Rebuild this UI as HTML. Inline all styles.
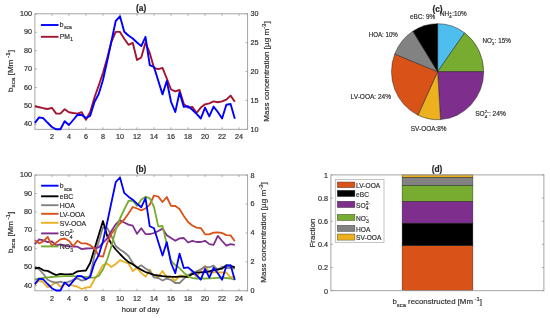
<!DOCTYPE html>
<html><head><meta charset="utf-8"><style>
html,body{margin:0;padding:0;background:#fff;}
body{width:550px;height:318px;overflow:hidden;}
svg{display:block;will-change:transform;font-family:"Liberation Sans",sans-serif;}
</style></head><body>
<svg width="550" height="318" viewBox="0 0 550 318" font-family="Liberation Sans, sans-serif">
<rect width="550" height="318" fill="#fff"/>
<rect x="34.9" y="13.8" width="212.70" height="115.50" fill="none" stroke="#9a9a9a" stroke-width="0.9"/>
<line x1="51.92" y1="129.3" x2="51.92" y2="127.30000000000001" stroke="#9a9a9a" stroke-width="0.8"/>
<line x1="51.92" y1="13.8" x2="51.92" y2="15.8" stroke="#9a9a9a" stroke-width="0.8"/>
<text x="51.92" y="139.30" font-size="7.2" text-anchor="middle" font-weight="normal" fill="#2e2e2e" stroke="#2e2e2e" stroke-width="0.18" >2</text>
<line x1="68.93" y1="129.3" x2="68.93" y2="127.30000000000001" stroke="#9a9a9a" stroke-width="0.8"/>
<line x1="68.93" y1="13.8" x2="68.93" y2="15.8" stroke="#9a9a9a" stroke-width="0.8"/>
<text x="68.93" y="139.30" font-size="7.2" text-anchor="middle" font-weight="normal" fill="#2e2e2e" stroke="#2e2e2e" stroke-width="0.18" >4</text>
<line x1="85.95" y1="129.3" x2="85.95" y2="127.30000000000001" stroke="#9a9a9a" stroke-width="0.8"/>
<line x1="85.95" y1="13.8" x2="85.95" y2="15.8" stroke="#9a9a9a" stroke-width="0.8"/>
<text x="85.95" y="139.30" font-size="7.2" text-anchor="middle" font-weight="normal" fill="#2e2e2e" stroke="#2e2e2e" stroke-width="0.18" >6</text>
<line x1="102.96" y1="129.3" x2="102.96" y2="127.30000000000001" stroke="#9a9a9a" stroke-width="0.8"/>
<line x1="102.96" y1="13.8" x2="102.96" y2="15.8" stroke="#9a9a9a" stroke-width="0.8"/>
<text x="102.96" y="139.30" font-size="7.2" text-anchor="middle" font-weight="normal" fill="#2e2e2e" stroke="#2e2e2e" stroke-width="0.18" >8</text>
<line x1="119.98" y1="129.3" x2="119.98" y2="127.30000000000001" stroke="#9a9a9a" stroke-width="0.8"/>
<line x1="119.98" y1="13.8" x2="119.98" y2="15.8" stroke="#9a9a9a" stroke-width="0.8"/>
<text x="119.98" y="139.30" font-size="7.2" text-anchor="middle" font-weight="normal" fill="#2e2e2e" stroke="#2e2e2e" stroke-width="0.18" >10</text>
<line x1="137.00" y1="129.3" x2="137.00" y2="127.30000000000001" stroke="#9a9a9a" stroke-width="0.8"/>
<line x1="137.00" y1="13.8" x2="137.00" y2="15.8" stroke="#9a9a9a" stroke-width="0.8"/>
<text x="137.00" y="139.30" font-size="7.2" text-anchor="middle" font-weight="normal" fill="#2e2e2e" stroke="#2e2e2e" stroke-width="0.18" >12</text>
<line x1="154.01" y1="129.3" x2="154.01" y2="127.30000000000001" stroke="#9a9a9a" stroke-width="0.8"/>
<line x1="154.01" y1="13.8" x2="154.01" y2="15.8" stroke="#9a9a9a" stroke-width="0.8"/>
<text x="154.01" y="139.30" font-size="7.2" text-anchor="middle" font-weight="normal" fill="#2e2e2e" stroke="#2e2e2e" stroke-width="0.18" >14</text>
<line x1="171.03" y1="129.3" x2="171.03" y2="127.30000000000001" stroke="#9a9a9a" stroke-width="0.8"/>
<line x1="171.03" y1="13.8" x2="171.03" y2="15.8" stroke="#9a9a9a" stroke-width="0.8"/>
<text x="171.03" y="139.30" font-size="7.2" text-anchor="middle" font-weight="normal" fill="#2e2e2e" stroke="#2e2e2e" stroke-width="0.18" >16</text>
<line x1="188.04" y1="129.3" x2="188.04" y2="127.30000000000001" stroke="#9a9a9a" stroke-width="0.8"/>
<line x1="188.04" y1="13.8" x2="188.04" y2="15.8" stroke="#9a9a9a" stroke-width="0.8"/>
<text x="188.04" y="139.30" font-size="7.2" text-anchor="middle" font-weight="normal" fill="#2e2e2e" stroke="#2e2e2e" stroke-width="0.18" >18</text>
<line x1="205.06" y1="129.3" x2="205.06" y2="127.30000000000001" stroke="#9a9a9a" stroke-width="0.8"/>
<line x1="205.06" y1="13.8" x2="205.06" y2="15.8" stroke="#9a9a9a" stroke-width="0.8"/>
<text x="205.06" y="139.30" font-size="7.2" text-anchor="middle" font-weight="normal" fill="#2e2e2e" stroke="#2e2e2e" stroke-width="0.18" >20</text>
<line x1="222.08" y1="129.3" x2="222.08" y2="127.30000000000001" stroke="#9a9a9a" stroke-width="0.8"/>
<line x1="222.08" y1="13.8" x2="222.08" y2="15.8" stroke="#9a9a9a" stroke-width="0.8"/>
<text x="222.08" y="139.30" font-size="7.2" text-anchor="middle" font-weight="normal" fill="#2e2e2e" stroke="#2e2e2e" stroke-width="0.18" >22</text>
<line x1="239.09" y1="129.3" x2="239.09" y2="127.30000000000001" stroke="#9a9a9a" stroke-width="0.8"/>
<line x1="239.09" y1="13.8" x2="239.09" y2="15.8" stroke="#9a9a9a" stroke-width="0.8"/>
<text x="239.09" y="139.30" font-size="7.2" text-anchor="middle" font-weight="normal" fill="#2e2e2e" stroke="#2e2e2e" stroke-width="0.18" >24</text>
<line x1="34.9" y1="124.30" x2="36.9" y2="124.30" stroke="#9a9a9a" stroke-width="0.8"/>
<text x="32.10" y="126.40" font-size="7.2" text-anchor="end" font-weight="normal" fill="#2e2e2e" stroke="#2e2e2e" stroke-width="0.18" >40</text>
<line x1="34.9" y1="105.90" x2="36.9" y2="105.90" stroke="#9a9a9a" stroke-width="0.8"/>
<text x="32.10" y="108.00" font-size="7.2" text-anchor="end" font-weight="normal" fill="#2e2e2e" stroke="#2e2e2e" stroke-width="0.18" >50</text>
<line x1="34.9" y1="87.50" x2="36.9" y2="87.50" stroke="#9a9a9a" stroke-width="0.8"/>
<text x="32.10" y="89.60" font-size="7.2" text-anchor="end" font-weight="normal" fill="#2e2e2e" stroke="#2e2e2e" stroke-width="0.18" >60</text>
<line x1="34.9" y1="69.10" x2="36.9" y2="69.10" stroke="#9a9a9a" stroke-width="0.8"/>
<text x="32.10" y="71.20" font-size="7.2" text-anchor="end" font-weight="normal" fill="#2e2e2e" stroke="#2e2e2e" stroke-width="0.18" >70</text>
<line x1="34.9" y1="50.70" x2="36.9" y2="50.70" stroke="#9a9a9a" stroke-width="0.8"/>
<text x="32.10" y="52.80" font-size="7.2" text-anchor="end" font-weight="normal" fill="#2e2e2e" stroke="#2e2e2e" stroke-width="0.18" >80</text>
<line x1="34.9" y1="32.30" x2="36.9" y2="32.30" stroke="#9a9a9a" stroke-width="0.8"/>
<text x="32.10" y="34.40" font-size="7.2" text-anchor="end" font-weight="normal" fill="#2e2e2e" stroke="#2e2e2e" stroke-width="0.18" >90</text>
<line x1="34.9" y1="13.90" x2="36.9" y2="13.90" stroke="#9a9a9a" stroke-width="0.8"/>
<text x="32.10" y="16.00" font-size="7.2" text-anchor="end" font-weight="normal" fill="#2e2e2e" stroke="#2e2e2e" stroke-width="0.18" >100</text>
<line x1="247.6" y1="129.30" x2="245.6" y2="129.30" stroke="#9a9a9a" stroke-width="0.8"/>
<text x="250.40" y="131.80" font-size="7.2" text-anchor="start" font-weight="normal" fill="#2e2e2e" stroke="#2e2e2e" stroke-width="0.18" >10</text>
<line x1="247.6" y1="100.43" x2="245.6" y2="100.43" stroke="#9a9a9a" stroke-width="0.8"/>
<text x="250.40" y="102.93" font-size="7.2" text-anchor="start" font-weight="normal" fill="#2e2e2e" stroke="#2e2e2e" stroke-width="0.18" >15</text>
<line x1="247.6" y1="71.55" x2="245.6" y2="71.55" stroke="#9a9a9a" stroke-width="0.8"/>
<text x="250.40" y="74.05" font-size="7.2" text-anchor="start" font-weight="normal" fill="#2e2e2e" stroke="#2e2e2e" stroke-width="0.18" >20</text>
<line x1="247.6" y1="42.67" x2="245.6" y2="42.67" stroke="#9a9a9a" stroke-width="0.8"/>
<text x="250.40" y="45.17" font-size="7.2" text-anchor="start" font-weight="normal" fill="#2e2e2e" stroke="#2e2e2e" stroke-width="0.18" >25</text>
<line x1="247.6" y1="13.80" x2="245.6" y2="13.80" stroke="#9a9a9a" stroke-width="0.8"/>
<text x="250.40" y="16.30" font-size="7.2" text-anchor="start" font-weight="normal" fill="#2e2e2e" stroke="#2e2e2e" stroke-width="0.18" >30</text>
<polyline points="34.90,106.30 39.15,107.20 43.41,108.20 47.66,109.00 51.92,107.80 56.17,113.60 60.42,113.60 64.68,109.20 68.93,112.20 73.19,113.00 77.44,113.60 81.69,112.20 85.95,119.70 90.20,112.00 94.46,97.50 98.71,85.50 102.96,73.00 107.22,58.00 111.47,41.50 115.73,31.90 119.98,31.90 124.23,38.70 128.49,44.80 132.74,42.80 137.00,60.00 141.25,57.50 145.50,42.50 149.76,53.00 154.01,67.90 158.27,69.20 162.52,67.90 166.77,78.50 171.03,89.50 175.28,91.40 179.54,90.00 183.79,104.00 188.04,107.60 192.30,106.90 196.55,113.00 200.81,107.60 205.06,104.30 209.31,103.30 213.57,101.40 217.82,102.30 222.08,101.40 226.33,99.60 230.58,95.60 234.84,101.80" fill="none" stroke="#A2142F" stroke-width="1.9" stroke-linejoin="round"/>
<polyline points="34.90,122.90 39.15,117.40 43.41,118.30 47.66,122.80 51.92,127.00 56.17,129.30 60.42,129.30 64.68,121.20 68.93,125.00 73.19,120.00 77.44,114.80 81.69,115.00 85.95,118.00 90.20,115.80 94.46,102.00 98.71,94.00 102.96,80.00 107.22,61.00 111.47,41.00 115.73,21.00 119.98,16.30 124.23,31.70 128.49,35.50 132.74,38.50 137.00,42.50 141.25,46.10 145.50,36.80 149.76,65.10 154.01,67.00 158.27,80.70 162.52,94.40 166.77,81.00 171.03,101.80 175.28,112.00 179.54,92.40 183.79,106.90 188.04,106.20 192.30,109.80 196.55,113.90 200.81,118.50 205.06,107.60 209.31,116.40 213.57,106.60 217.82,112.00 222.08,118.50 226.33,104.70 230.58,104.00 234.84,118.80" fill="none" stroke="#0000FF" stroke-width="1.9" stroke-linejoin="round"/>
<text x="141.20" y="11.20" font-size="8.4" text-anchor="middle" font-weight="bold" fill="#262626" stroke="#262626" stroke-width="0.18" >(a)</text>
<line x1="40.9" y1="25.0" x2="58.5" y2="25.0" stroke="#0000FF" stroke-width="1.9"/>
<line x1="40.9" y1="36.8" x2="58.5" y2="36.8" stroke="#A2142F" stroke-width="1.9"/>
<text x="59.70" y="26.60" font-size="6.8" text-anchor="start" font-weight="normal" fill="#2e2e2e" stroke="#2e2e2e" stroke-width="0.18" >b<tspan font-size="5" dx="0.4" dy="2.8">sca</tspan></text>
<text x="59.70" y="38.60" font-size="6.8" text-anchor="start" font-weight="normal" fill="#2e2e2e" stroke="#2e2e2e" stroke-width="0.18" >PM<tspan font-size="5" dx="0.3" dy="2.8">1</tspan></text>
<text x="0.00" y="0.00" font-size="7.2" text-anchor="middle" font-weight="normal" fill="#2e2e2e" stroke="#2e2e2e" stroke-width="0.18" textLength="41.8" lengthAdjust="spacingAndGlyphs" transform="translate(13.2,71.0) rotate(-90)">b<tspan font-size="5.6" dy="2.2">sca</tspan><tspan dy="-2.2"> [Mm</tspan><tspan font-size="5.6" dy="-3.4"> -1</tspan><tspan dy="3.4">]</tspan></text>
<text x="0.00" y="0.00" font-size="7.6" text-anchor="middle" font-weight="normal" fill="#2e2e2e" stroke="#2e2e2e" stroke-width="0.18" textLength="100.4" lengthAdjust="spacingAndGlyphs" transform="translate(269.4,71.5) rotate(-90)">Mass concentration [µg m<tspan font-size="5.6" dy="-3.6">-3</tspan><tspan dy="3.6">]</tspan></text>
<rect x="34.9" y="175.0" width="212.70" height="115.80" fill="none" stroke="#9a9a9a" stroke-width="0.9"/>
<line x1="51.92" y1="290.8" x2="51.92" y2="288.8" stroke="#9a9a9a" stroke-width="0.8"/>
<line x1="51.92" y1="175.0" x2="51.92" y2="177.0" stroke="#9a9a9a" stroke-width="0.8"/>
<text x="51.92" y="300.80" font-size="7.2" text-anchor="middle" font-weight="normal" fill="#2e2e2e" stroke="#2e2e2e" stroke-width="0.18" >2</text>
<line x1="68.93" y1="290.8" x2="68.93" y2="288.8" stroke="#9a9a9a" stroke-width="0.8"/>
<line x1="68.93" y1="175.0" x2="68.93" y2="177.0" stroke="#9a9a9a" stroke-width="0.8"/>
<text x="68.93" y="300.80" font-size="7.2" text-anchor="middle" font-weight="normal" fill="#2e2e2e" stroke="#2e2e2e" stroke-width="0.18" >4</text>
<line x1="85.95" y1="290.8" x2="85.95" y2="288.8" stroke="#9a9a9a" stroke-width="0.8"/>
<line x1="85.95" y1="175.0" x2="85.95" y2="177.0" stroke="#9a9a9a" stroke-width="0.8"/>
<text x="85.95" y="300.80" font-size="7.2" text-anchor="middle" font-weight="normal" fill="#2e2e2e" stroke="#2e2e2e" stroke-width="0.18" >6</text>
<line x1="102.96" y1="290.8" x2="102.96" y2="288.8" stroke="#9a9a9a" stroke-width="0.8"/>
<line x1="102.96" y1="175.0" x2="102.96" y2="177.0" stroke="#9a9a9a" stroke-width="0.8"/>
<text x="102.96" y="300.80" font-size="7.2" text-anchor="middle" font-weight="normal" fill="#2e2e2e" stroke="#2e2e2e" stroke-width="0.18" >8</text>
<line x1="119.98" y1="290.8" x2="119.98" y2="288.8" stroke="#9a9a9a" stroke-width="0.8"/>
<line x1="119.98" y1="175.0" x2="119.98" y2="177.0" stroke="#9a9a9a" stroke-width="0.8"/>
<text x="119.98" y="300.80" font-size="7.2" text-anchor="middle" font-weight="normal" fill="#2e2e2e" stroke="#2e2e2e" stroke-width="0.18" >10</text>
<line x1="137.00" y1="290.8" x2="137.00" y2="288.8" stroke="#9a9a9a" stroke-width="0.8"/>
<line x1="137.00" y1="175.0" x2="137.00" y2="177.0" stroke="#9a9a9a" stroke-width="0.8"/>
<text x="137.00" y="300.80" font-size="7.2" text-anchor="middle" font-weight="normal" fill="#2e2e2e" stroke="#2e2e2e" stroke-width="0.18" >12</text>
<line x1="154.01" y1="290.8" x2="154.01" y2="288.8" stroke="#9a9a9a" stroke-width="0.8"/>
<line x1="154.01" y1="175.0" x2="154.01" y2="177.0" stroke="#9a9a9a" stroke-width="0.8"/>
<text x="154.01" y="300.80" font-size="7.2" text-anchor="middle" font-weight="normal" fill="#2e2e2e" stroke="#2e2e2e" stroke-width="0.18" >14</text>
<line x1="171.03" y1="290.8" x2="171.03" y2="288.8" stroke="#9a9a9a" stroke-width="0.8"/>
<line x1="171.03" y1="175.0" x2="171.03" y2="177.0" stroke="#9a9a9a" stroke-width="0.8"/>
<text x="171.03" y="300.80" font-size="7.2" text-anchor="middle" font-weight="normal" fill="#2e2e2e" stroke="#2e2e2e" stroke-width="0.18" >16</text>
<line x1="188.04" y1="290.8" x2="188.04" y2="288.8" stroke="#9a9a9a" stroke-width="0.8"/>
<line x1="188.04" y1="175.0" x2="188.04" y2="177.0" stroke="#9a9a9a" stroke-width="0.8"/>
<text x="188.04" y="300.80" font-size="7.2" text-anchor="middle" font-weight="normal" fill="#2e2e2e" stroke="#2e2e2e" stroke-width="0.18" >18</text>
<line x1="205.06" y1="290.8" x2="205.06" y2="288.8" stroke="#9a9a9a" stroke-width="0.8"/>
<line x1="205.06" y1="175.0" x2="205.06" y2="177.0" stroke="#9a9a9a" stroke-width="0.8"/>
<text x="205.06" y="300.80" font-size="7.2" text-anchor="middle" font-weight="normal" fill="#2e2e2e" stroke="#2e2e2e" stroke-width="0.18" >20</text>
<line x1="222.08" y1="290.8" x2="222.08" y2="288.8" stroke="#9a9a9a" stroke-width="0.8"/>
<line x1="222.08" y1="175.0" x2="222.08" y2="177.0" stroke="#9a9a9a" stroke-width="0.8"/>
<text x="222.08" y="300.80" font-size="7.2" text-anchor="middle" font-weight="normal" fill="#2e2e2e" stroke="#2e2e2e" stroke-width="0.18" >22</text>
<line x1="239.09" y1="290.8" x2="239.09" y2="288.8" stroke="#9a9a9a" stroke-width="0.8"/>
<line x1="239.09" y1="175.0" x2="239.09" y2="177.0" stroke="#9a9a9a" stroke-width="0.8"/>
<text x="239.09" y="300.80" font-size="7.2" text-anchor="middle" font-weight="normal" fill="#2e2e2e" stroke="#2e2e2e" stroke-width="0.18" >24</text>
<line x1="34.9" y1="285.50" x2="36.9" y2="285.50" stroke="#9a9a9a" stroke-width="0.8"/>
<text x="32.10" y="287.60" font-size="7.2" text-anchor="end" font-weight="normal" fill="#2e2e2e" stroke="#2e2e2e" stroke-width="0.18" >40</text>
<line x1="34.9" y1="267.10" x2="36.9" y2="267.10" stroke="#9a9a9a" stroke-width="0.8"/>
<text x="32.10" y="269.20" font-size="7.2" text-anchor="end" font-weight="normal" fill="#2e2e2e" stroke="#2e2e2e" stroke-width="0.18" >50</text>
<line x1="34.9" y1="248.70" x2="36.9" y2="248.70" stroke="#9a9a9a" stroke-width="0.8"/>
<text x="32.10" y="250.80" font-size="7.2" text-anchor="end" font-weight="normal" fill="#2e2e2e" stroke="#2e2e2e" stroke-width="0.18" >60</text>
<line x1="34.9" y1="230.30" x2="36.9" y2="230.30" stroke="#9a9a9a" stroke-width="0.8"/>
<text x="32.10" y="232.40" font-size="7.2" text-anchor="end" font-weight="normal" fill="#2e2e2e" stroke="#2e2e2e" stroke-width="0.18" >70</text>
<line x1="34.9" y1="211.90" x2="36.9" y2="211.90" stroke="#9a9a9a" stroke-width="0.8"/>
<text x="32.10" y="214.00" font-size="7.2" text-anchor="end" font-weight="normal" fill="#2e2e2e" stroke="#2e2e2e" stroke-width="0.18" >80</text>
<line x1="34.9" y1="193.50" x2="36.9" y2="193.50" stroke="#9a9a9a" stroke-width="0.8"/>
<text x="32.10" y="195.60" font-size="7.2" text-anchor="end" font-weight="normal" fill="#2e2e2e" stroke="#2e2e2e" stroke-width="0.18" >90</text>
<line x1="34.9" y1="175.10" x2="36.9" y2="175.10" stroke="#9a9a9a" stroke-width="0.8"/>
<text x="32.10" y="177.20" font-size="7.2" text-anchor="end" font-weight="normal" fill="#2e2e2e" stroke="#2e2e2e" stroke-width="0.18" >100</text>
<line x1="247.6" y1="290.80" x2="245.6" y2="290.80" stroke="#9a9a9a" stroke-width="0.8"/>
<text x="250.40" y="293.30" font-size="7.2" text-anchor="start" font-weight="normal" fill="#2e2e2e" stroke="#2e2e2e" stroke-width="0.18" >0</text>
<line x1="247.6" y1="261.85" x2="245.6" y2="261.85" stroke="#9a9a9a" stroke-width="0.8"/>
<text x="250.40" y="264.35" font-size="7.2" text-anchor="start" font-weight="normal" fill="#2e2e2e" stroke="#2e2e2e" stroke-width="0.18" >2</text>
<line x1="247.6" y1="232.90" x2="245.6" y2="232.90" stroke="#9a9a9a" stroke-width="0.8"/>
<text x="250.40" y="235.40" font-size="7.2" text-anchor="start" font-weight="normal" fill="#2e2e2e" stroke="#2e2e2e" stroke-width="0.18" >4</text>
<line x1="247.6" y1="203.95" x2="245.6" y2="203.95" stroke="#9a9a9a" stroke-width="0.8"/>
<text x="250.40" y="206.45" font-size="7.2" text-anchor="start" font-weight="normal" fill="#2e2e2e" stroke="#2e2e2e" stroke-width="0.18" >6</text>
<line x1="247.6" y1="175.00" x2="245.6" y2="175.00" stroke="#9a9a9a" stroke-width="0.8"/>
<text x="250.40" y="177.50" font-size="7.2" text-anchor="start" font-weight="normal" fill="#2e2e2e" stroke="#2e2e2e" stroke-width="0.18" >8</text>
<polyline points="34.90,284.40 39.15,280.60 43.41,282.30 47.66,287.40 51.92,285.00 56.17,281.90 60.42,287.00 64.68,284.10 68.93,284.60 73.19,285.70 77.44,286.70 81.69,289.00 85.95,287.60 90.20,287.00 94.46,279.50 98.71,273.00 102.96,265.00 107.22,263.70 111.47,267.00 115.73,264.00 119.98,260.20 124.23,262.00 128.49,263.40 132.74,271.00 137.00,267.80 141.25,272.90 145.50,276.70 149.76,269.70 154.01,277.40 158.27,276.70 162.52,271.00 166.77,277.40 171.03,276.80 175.28,280.90 179.54,275.50 183.79,276.10 188.04,277.50 192.30,272.00 196.55,276.80 200.81,270.70 205.06,265.90 209.31,272.70 213.57,272.00 217.82,272.30 222.08,272.50 226.33,272.70 230.58,277.50 234.84,276.10" fill="none" stroke="#EDB120" stroke-width="1.8" stroke-linejoin="round"/>
<polyline points="34.90,266.50 39.15,269.50 43.41,274.00 47.66,279.70 51.92,281.70 56.17,282.80 60.42,281.70 64.68,283.00 68.93,281.70 73.19,279.70 77.44,278.40 81.69,280.60 85.95,279.70 90.20,275.10 94.46,255.50 98.71,242.00 102.96,227.50 107.22,228.00 111.47,236.00 115.73,246.00 119.98,249.50 124.23,252.30 128.49,256.00 132.74,263.00 137.00,267.80 141.25,265.30 145.50,268.50 149.76,271.00 154.01,277.40 158.27,278.00 162.52,280.50 166.77,278.60 171.03,279.90 175.28,283.00 179.54,283.00 183.79,278.90 188.04,275.00 192.30,273.00 196.55,271.40 200.81,269.30 205.06,266.60 209.31,267.30 213.57,265.60 217.82,270.00 222.08,266.60 226.33,268.00 230.58,268.00 234.84,268.60" fill="none" stroke="#828282" stroke-width="1.8" stroke-linejoin="round"/>
<polyline points="34.90,268.50 39.15,267.70 43.41,270.30 47.66,270.90 51.92,273.10 56.17,275.10 60.42,273.80 64.68,274.40 68.93,274.40 73.19,273.80 77.44,271.40 81.69,270.90 85.95,270.50 90.20,263.00 94.46,249.00 98.71,235.00 102.96,221.00 107.22,236.00 111.47,244.00 115.73,249.50 119.98,254.00 124.23,258.30 128.49,262.10 132.74,264.30 137.00,267.30 141.25,269.70 145.50,272.00 149.76,273.30 154.01,274.80 158.27,275.50 162.52,276.10 166.77,276.50 171.03,276.70 175.28,276.80 179.54,276.60 183.79,276.70 188.04,276.80 192.30,274.10 196.55,272.70 200.81,272.30 205.06,272.00 209.31,271.40 213.57,270.00 217.82,269.30 222.08,268.60 226.33,265.20 230.58,265.90 234.84,267.30" fill="none" stroke="#000000" stroke-width="1.8" stroke-linejoin="round"/>
<polyline points="34.90,244.10 39.15,239.40 43.41,240.40 47.66,242.10 51.92,241.40 56.17,245.40 60.42,244.30 64.68,245.60 68.93,246.40 73.19,246.50 77.44,246.70 81.69,249.10 85.95,248.50 90.20,248.30 94.46,248.00 98.71,247.40 102.96,243.00 107.22,238.30 111.47,231.00 115.73,224.30 119.98,220.20 124.23,222.50 128.49,224.60 132.74,225.60 137.00,233.80 141.25,228.30 145.50,234.00 149.76,234.10 154.01,233.00 158.27,231.00 162.52,228.60 166.77,235.20 171.03,238.00 175.28,240.80 179.54,238.40 183.79,238.00 188.04,242.50 192.30,240.80 196.55,242.00 200.81,242.00 205.06,240.80 209.31,244.10 213.57,244.90 217.82,235.90 222.08,241.00 226.33,245.70 230.58,244.10 234.84,244.90" fill="none" stroke="#7E2F8E" stroke-width="1.8" stroke-linejoin="round"/>
<polyline points="34.90,240.10 39.15,243.40 43.41,241.40 47.66,236.80 51.92,245.60 56.17,242.70 60.42,239.40 64.68,238.50 68.93,240.80 73.19,246.00 77.44,240.80 81.69,243.40 85.95,243.40 90.20,245.20 94.46,248.50 98.71,255.80 102.96,256.70 107.22,243.00 111.47,233.70 115.73,228.50 119.98,223.50 124.23,219.50 128.49,213.50 132.74,207.00 137.00,208.50 141.25,210.30 145.50,208.50 149.76,204.70 154.01,195.50 158.27,196.60 162.52,202.00 166.77,197.00 171.03,205.80 175.28,206.00 179.54,209.00 183.79,216.00 188.04,222.00 192.30,225.50 196.55,227.60 200.81,228.10 205.06,234.30 209.31,234.30 213.57,232.60 217.82,232.40 222.08,233.00 226.33,235.10 230.58,235.40 234.84,241.30" fill="none" stroke="#D95319" stroke-width="1.8" stroke-linejoin="round"/>
<polyline points="34.90,279.50 39.15,278.60 43.41,277.80 47.66,277.30 51.92,277.00 56.17,276.70 60.42,276.40 64.68,276.20 68.93,276.10 73.19,276.10 77.44,276.30 81.69,276.60 85.95,277.00 90.20,277.60 94.46,277.60 98.71,276.00 102.96,269.50 107.22,259.50 111.47,246.00 115.73,230.00 119.98,218.50 124.23,209.50 128.49,201.00 132.74,200.50 137.00,205.90 141.25,199.80 145.50,196.70 149.76,198.30 154.01,207.00 158.27,226.40 162.52,226.00 166.77,244.10 171.03,261.00 175.28,265.20 179.54,268.00 183.79,272.70 188.04,276.00 192.30,278.20 196.55,278.50 200.81,278.50 205.06,278.50 209.31,278.40 213.57,278.20 217.82,277.80 222.08,277.50 226.33,278.00 230.58,278.50 234.84,279.60" fill="none" stroke="#77AC30" stroke-width="1.8" stroke-linejoin="round"/>
<polyline points="34.90,284.10 39.15,278.60 43.41,279.50 47.66,284.00 51.92,288.20 56.17,290.50 60.42,290.50 64.68,282.40 68.93,286.20 73.19,281.20 77.44,276.00 81.69,276.20 85.95,279.20 90.20,277.00 94.46,263.20 98.71,255.20 102.96,241.20 107.22,222.20 111.47,202.20 115.73,182.20 119.98,177.50 124.23,192.90 128.49,196.70 132.74,199.70 137.00,203.70 141.25,207.30 145.50,198.00 149.76,226.30 154.01,228.20 158.27,241.90 162.52,255.60 166.77,242.20 171.03,263.00 175.28,273.20 179.54,253.60 183.79,268.10 188.04,267.40 192.30,271.00 196.55,275.10 200.81,279.70 205.06,268.80 209.31,277.60 213.57,267.80 217.82,273.20 222.08,279.70 226.33,265.90 230.58,265.20 234.84,280.00" fill="none" stroke="#0000FF" stroke-width="1.8" stroke-linejoin="round"/>
<text x="141.00" y="172.40" font-size="8.4" text-anchor="middle" font-weight="bold" fill="#262626" stroke="#262626" stroke-width="0.18" >(b)</text>
<line x1="41.1" y1="185.7" x2="58.5" y2="185.7" stroke="#0000FF" stroke-width="1.9"/>
<text x="59.80" y="188.40" font-size="6.9" text-anchor="start" font-weight="normal" fill="#2e2e2e" stroke="#2e2e2e" stroke-width="0.18" >b<tspan font-size="5" dx="0.4" dy="2.8">sca</tspan></text>
<line x1="41.1" y1="196.3" x2="58.5" y2="196.3" stroke="#000000" stroke-width="1.9"/>
<text x="59.80" y="199.00" font-size="6.9" text-anchor="start" font-weight="normal" fill="#2e2e2e" stroke="#2e2e2e" stroke-width="0.18" >eBC</text>
<line x1="41.1" y1="205.2" x2="58.5" y2="205.2" stroke="#828282" stroke-width="1.9"/>
<text x="59.80" y="207.90" font-size="6.9" text-anchor="start" font-weight="normal" fill="#2e2e2e" stroke="#2e2e2e" stroke-width="0.18" >HOA</text>
<line x1="41.1" y1="213.8" x2="58.5" y2="213.8" stroke="#D95319" stroke-width="1.9"/>
<text x="59.80" y="216.50" font-size="6.9" text-anchor="start" font-weight="normal" fill="#2e2e2e" stroke="#2e2e2e" stroke-width="0.18" >LV-OOA</text>
<line x1="41.1" y1="222.8" x2="58.5" y2="222.8" stroke="#EDB120" stroke-width="1.9"/>
<text x="59.80" y="225.50" font-size="6.9" text-anchor="start" font-weight="normal" fill="#2e2e2e" stroke="#2e2e2e" stroke-width="0.18" >SV-OOA</text>
<line x1="41.1" y1="233.4" x2="58.5" y2="233.4" stroke="#7E2F8E" stroke-width="1.9"/>
<text x="59.80" y="236.10" font-size="6.9" text-anchor="start" font-weight="normal" fill="#2e2e2e" stroke="#2e2e2e" stroke-width="0.18" >SO<tspan font-size="5.0" dy="2.4">4</tspan><tspan font-size="5.0" dx="-2.78" dy="-5.20">2-</tspan><tspan dx="0.30" dy="2.8"></tspan></text>
<line x1="41.1" y1="246.4" x2="58.5" y2="246.4" stroke="#77AC30" stroke-width="1.9"/>
<text x="59.80" y="249.10" font-size="6.9" text-anchor="start" font-weight="normal" fill="#2e2e2e" stroke="#2e2e2e" stroke-width="0.18" >NO<tspan font-size="5.0" dy="2.4">3</tspan><tspan font-size="5.0" dx="-2.78" dy="-5.20">-</tspan><tspan dx="1.42" dy="2.8"></tspan></text>
<text x="0.00" y="0.00" font-size="7.2" text-anchor="middle" font-weight="normal" fill="#2e2e2e" stroke="#2e2e2e" stroke-width="0.18" textLength="41.2" lengthAdjust="spacingAndGlyphs" transform="translate(13.2,232.3) rotate(-90)">b<tspan font-size="5.6" dy="2.2">sca</tspan><tspan dy="-2.2"> [Mm</tspan><tspan font-size="5.6" dy="-3.4"> -1</tspan><tspan dy="3.4">]</tspan></text>
<text x="0.00" y="0.00" font-size="7.6" text-anchor="middle" font-weight="normal" fill="#2e2e2e" stroke="#2e2e2e" stroke-width="0.18" textLength="100.6" lengthAdjust="spacingAndGlyphs" transform="translate(266.3,232.45) rotate(-90)">Mass concentration [µg m<tspan font-size="5.6" dy="-3.6">-3</tspan><tspan dy="3.6">]</tspan></text>
<text x="140.65" y="311.60" font-size="7.6" text-anchor="middle" font-weight="normal" fill="#2e2e2e" stroke="#2e2e2e" stroke-width="0.18" textLength="37.7" lengthAdjust="spacingAndGlyphs">hour of day</text>
<path d="M437.6,71.7 L437.60,23.70 A46.1,48.0 0 0 1 464.70,32.87 Z" fill="#4DBEEE" stroke="#222" stroke-width="0.5" stroke-linejoin="round"/>
<path d="M437.6,71.7 L464.70,32.87 A46.1,48.0 0 0 1 483.70,71.70 Z" fill="#77AC30" stroke="#222" stroke-width="0.5" stroke-linejoin="round"/>
<path d="M437.6,71.7 L483.70,71.70 A46.1,48.0 0 0 1 440.49,119.61 Z" fill="#7E2F8E" stroke="#222" stroke-width="0.5" stroke-linejoin="round"/>
<path d="M437.6,71.7 L440.49,119.61 A46.1,48.0 0 0 1 417.97,115.13 Z" fill="#EDB120" stroke="#222" stroke-width="0.5" stroke-linejoin="round"/>
<path d="M437.6,71.7 L417.97,115.13 A46.1,48.0 0 0 1 394.74,54.03 Z" fill="#D95319" stroke="#222" stroke-width="0.5" stroke-linejoin="round"/>
<path d="M437.6,71.7 L394.74,54.03 A46.1,48.0 0 0 1 412.90,31.17 Z" fill="#828282" stroke="#222" stroke-width="0.5" stroke-linejoin="round"/>
<path d="M437.6,71.7 L412.90,31.17 A46.1,48.0 0 0 1 437.60,23.70 Z" fill="#000000" stroke="#222" stroke-width="0.5" stroke-linejoin="round"/>
<text x="437.50" y="12.00" font-size="8.4" text-anchor="middle" font-weight="bold" fill="#262626" stroke="#262626" stroke-width="0.18" >(c)</text>
<text x="409.90" y="19.40" font-size="6.6" text-anchor="start" font-weight="normal" fill="#2e2e2e" stroke="#2e2e2e" stroke-width="0.18" textLength="25.30" lengthAdjust="spacingAndGlyphs">eBC: 9%</text>
<text x="440.00" y="16.40" font-size="6.6" text-anchor="start" font-weight="normal" fill="#2e2e2e" stroke="#2e2e2e" stroke-width="0.18" textLength="26.80" lengthAdjust="spacingAndGlyphs">NH<tspan font-size="4.4" dy="2.0">4</tspan><tspan font-size="4.4" dx="-2.45" dy="-4.80">+</tspan><tspan dx="0.60" dy="2.8">:10%</tspan></text>
<text x="482.50" y="43.00" font-size="6.6" text-anchor="start" font-weight="normal" fill="#2e2e2e" stroke="#2e2e2e" stroke-width="0.18" textLength="28.50" lengthAdjust="spacingAndGlyphs">NO<tspan font-size="4.4" dy="2.0">3</tspan><tspan font-size="4.4" dx="-2.45" dy="-4.80">-</tspan><tspan dx="1.58" dy="2.8">: 15%</tspan></text>
<text x="475.20" y="115.70" font-size="6.6" text-anchor="start" font-weight="normal" fill="#2e2e2e" stroke="#2e2e2e" stroke-width="0.18" textLength="30.60" lengthAdjust="spacingAndGlyphs">SO<tspan font-size="4.4" dy="2.0">4</tspan><tspan font-size="4.4" dx="-2.45" dy="-4.80">2-</tspan><tspan dx="0.30" dy="2.8">: 24%</tspan></text>
<text x="410.80" y="130.70" font-size="6.6" text-anchor="start" font-weight="normal" fill="#2e2e2e" stroke="#2e2e2e" stroke-width="0.18" textLength="35.80" lengthAdjust="spacingAndGlyphs">SV-OOA:8%</text>
<text x="350.50" y="98.80" font-size="6.6" text-anchor="start" font-weight="normal" fill="#2e2e2e" stroke="#2e2e2e" stroke-width="0.18" textLength="40.50" lengthAdjust="spacingAndGlyphs">LV-OOA: 24%</text>
<text x="368.70" y="37.20" font-size="6.6" text-anchor="start" font-weight="normal" fill="#2e2e2e" stroke="#2e2e2e" stroke-width="0.18" textLength="29.10" lengthAdjust="spacingAndGlyphs">HOA: 10%</text>
<rect x="402.1" y="245.7" width="70.8" height="45.00" fill="#D95319" stroke="#222" stroke-width="0.4"/>
<rect x="402.1" y="223.1" width="70.8" height="22.60" fill="#000000" stroke="#222" stroke-width="0.4"/>
<rect x="402.1" y="201.2" width="70.8" height="21.90" fill="#7E2F8E" stroke="#222" stroke-width="0.4"/>
<rect x="402.1" y="185.2" width="70.8" height="16.00" fill="#77AC30" stroke="#222" stroke-width="0.4"/>
<rect x="402.1" y="177.2" width="70.8" height="8.00" fill="#828282" stroke="#222" stroke-width="0.4"/>
<rect x="402.1" y="174.9" width="70.8" height="2.30" fill="#EDB120" stroke="#222" stroke-width="0.4"/>
<rect x="330.9" y="174.9" width="213.00" height="115.80" fill="none" stroke="#9a9a9a" stroke-width="0.9"/>
<line x1="330.9" y1="290.70" x2="332.9" y2="290.70" stroke="#9a9a9a" stroke-width="0.8"/>
<line x1="543.9" y1="290.70" x2="541.9" y2="290.70" stroke="#9a9a9a" stroke-width="0.8"/>
<text x="328.10" y="293.50" font-size="7.2" text-anchor="end" font-weight="normal" fill="#2e2e2e" stroke="#2e2e2e" stroke-width="0.18" >0</text>
<line x1="330.9" y1="267.54" x2="332.9" y2="267.54" stroke="#9a9a9a" stroke-width="0.8"/>
<line x1="543.9" y1="267.54" x2="541.9" y2="267.54" stroke="#9a9a9a" stroke-width="0.8"/>
<text x="328.10" y="270.34" font-size="7.2" text-anchor="end" font-weight="normal" fill="#2e2e2e" stroke="#2e2e2e" stroke-width="0.18" >0.2</text>
<line x1="330.9" y1="244.38" x2="332.9" y2="244.38" stroke="#9a9a9a" stroke-width="0.8"/>
<line x1="543.9" y1="244.38" x2="541.9" y2="244.38" stroke="#9a9a9a" stroke-width="0.8"/>
<text x="328.10" y="247.18" font-size="7.2" text-anchor="end" font-weight="normal" fill="#2e2e2e" stroke="#2e2e2e" stroke-width="0.18" >0.4</text>
<line x1="330.9" y1="221.22" x2="332.9" y2="221.22" stroke="#9a9a9a" stroke-width="0.8"/>
<line x1="543.9" y1="221.22" x2="541.9" y2="221.22" stroke="#9a9a9a" stroke-width="0.8"/>
<text x="328.10" y="224.02" font-size="7.2" text-anchor="end" font-weight="normal" fill="#2e2e2e" stroke="#2e2e2e" stroke-width="0.18" >0.6</text>
<line x1="330.9" y1="198.06" x2="332.9" y2="198.06" stroke="#9a9a9a" stroke-width="0.8"/>
<line x1="543.9" y1="198.06" x2="541.9" y2="198.06" stroke="#9a9a9a" stroke-width="0.8"/>
<text x="328.10" y="200.86" font-size="7.2" text-anchor="end" font-weight="normal" fill="#2e2e2e" stroke="#2e2e2e" stroke-width="0.18" >0.8</text>
<line x1="330.9" y1="174.90" x2="332.9" y2="174.90" stroke="#9a9a9a" stroke-width="0.8"/>
<line x1="543.9" y1="174.90" x2="541.9" y2="174.90" stroke="#9a9a9a" stroke-width="0.8"/>
<text x="328.10" y="177.70" font-size="7.2" text-anchor="end" font-weight="normal" fill="#2e2e2e" stroke="#2e2e2e" stroke-width="0.18" >1</text>
<text x="437.00" y="172.40" font-size="8.4" text-anchor="middle" font-weight="bold" fill="#262626" stroke="#262626" stroke-width="0.18" >(d)</text>
<rect x="335.3" y="179.5" width="48.7" height="62.8" fill="#fff" stroke="#aaa" stroke-width="0.7"/>
<rect x="337.3" y="182.0" width="17.6" height="5.70" fill="#D95319" stroke="#333" stroke-width="0.4"/>
<text x="356.10" y="187.95" font-size="6.6" text-anchor="start" font-weight="normal" fill="#2e2e2e" stroke="#2e2e2e" stroke-width="0.18" >LV-OOA</text>
<rect x="337.3" y="190.3" width="17.6" height="6.30" fill="#000000" stroke="#333" stroke-width="0.4"/>
<text x="356.10" y="196.55" font-size="6.6" text-anchor="start" font-weight="normal" fill="#2e2e2e" stroke="#2e2e2e" stroke-width="0.18" >eBC</text>
<rect x="337.3" y="201.2" width="17.6" height="6.40" fill="#7E2F8E" stroke="#333" stroke-width="0.4"/>
<text x="356.10" y="207.50" font-size="6.6" text-anchor="start" font-weight="normal" fill="#2e2e2e" stroke="#2e2e2e" stroke-width="0.18" >SO<tspan font-size="5.0" dy="2.4">4</tspan><tspan font-size="5.0" dx="-2.78" dy="-5.20">2-</tspan><tspan dx="0.30" dy="2.8"></tspan></text>
<rect x="337.3" y="214.3" width="17.6" height="6.30" fill="#77AC30" stroke="#333" stroke-width="0.4"/>
<text x="356.10" y="220.55" font-size="6.6" text-anchor="start" font-weight="normal" fill="#2e2e2e" stroke="#2e2e2e" stroke-width="0.18" >NO<tspan font-size="5.0" dy="2.4">3</tspan><tspan font-size="5.0" dx="-2.78" dy="-5.20">-</tspan><tspan dx="1.42" dy="2.8"></tspan></text>
<rect x="337.3" y="225.3" width="17.6" height="6.20" fill="#828282" stroke="#333" stroke-width="0.4"/>
<text x="356.10" y="231.50" font-size="6.6" text-anchor="start" font-weight="normal" fill="#2e2e2e" stroke="#2e2e2e" stroke-width="0.18" >HOA</text>
<rect x="337.3" y="234.0" width="17.6" height="6.10" fill="#EDB120" stroke="#333" stroke-width="0.4"/>
<text x="356.10" y="240.15" font-size="6.6" text-anchor="start" font-weight="normal" fill="#2e2e2e" stroke="#2e2e2e" stroke-width="0.18" >SV-OOA</text>
<text x="0.00" y="0.00" font-size="7.6" text-anchor="middle" font-weight="normal" fill="#2e2e2e" stroke="#2e2e2e" stroke-width="0.18" textLength="29.2" lengthAdjust="spacingAndGlyphs" transform="translate(314.6,233) rotate(-90)">Fraction</text>
<text x="392.50" y="303.90" font-size="7.8" text-anchor="start" font-weight="normal" fill="#2e2e2e" stroke="#2e2e2e" stroke-width="0.18" textLength="89.4" lengthAdjust="spacingAndGlyphs">b<tspan font-size="5.8" dy="2.6">sca</tspan><tspan dy="-2.6"> reconstructed [Mm</tspan><tspan font-size="5.8" dy="-3.4"> -1</tspan><tspan dy="3.4">]</tspan></text>
</svg>
</body></html>
